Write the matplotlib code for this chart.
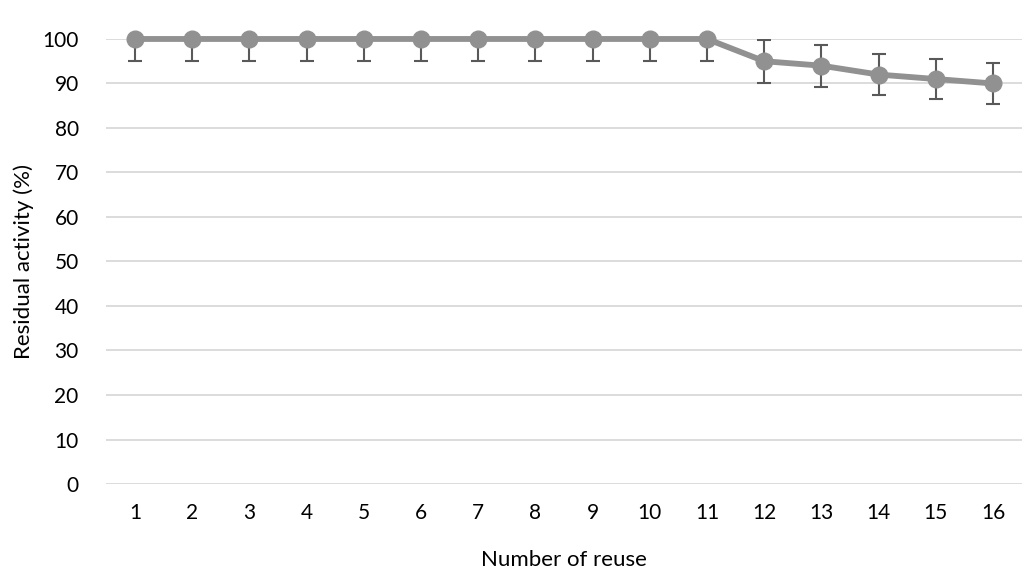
import matplotlib

matplotlib.use("Agg")
import matplotlib.pyplot as plt  # noqa: E402

# residual activity over repeated reuse
reuse = [1, 2, 3, 4, 5, 6, 7, 8, 9, 10, 11, 12, 13, 14, 15, 16]
activity = [100, 100, 100, 100, 100, 100, 100, 100, 100, 100, 100, 95, 94, 92, 91, 90]
err = [5, 5, 5, 5, 5, 5, 5, 5, 5, 5, 5, 4.85, 4.75, 4.6, 4.5, 4.5]

plt.rcParams["font.family"] = ["Lato", "DejaVu Sans"]

fig = plt.figure(figsize=(10.24, 5.8), dpi=100)
ax = fig.add_axes([0.104, 0.1655, 0.8937, 0.7673])

# error bars above 100 are cut off at the plot top, as in the original
ax.errorbar(
    reuse, activity, yerr=err, fmt="none", ecolor="#595959",
    elinewidth=1.5, capsize=5, capthick=1.5, zorder=3, clip_on=True,
)
ax.plot(
    reuse, activity, "-o", color="#919191", lw=4.2, ms=12,
    zorder=4, clip_on=False,
)

ax.set_xlim(0.5, 16.5)
ax.set_ylim(0, 100)
ax.set_xticks(reuse)
ax.set_yticks(range(0, 101, 10))
ax.grid(axis="y", color="#d9d9d9", lw=1.3)
ax.set_axisbelow(True)
for s in ax.spines.values():
    s.set_visible(False)
ax.tick_params(length=0, labelsize=15, colors="#000000")
ax.tick_params(axis="x", pad=14)
ax.tick_params(axis="y", pad=20)
ax.set_xlabel("Number of reuse", fontsize=16, labelpad=19)
ax.set_ylabel("Residual activity (%)", fontsize=16, labelpad=6)

fig.savefig("out.png", dpi=100)
